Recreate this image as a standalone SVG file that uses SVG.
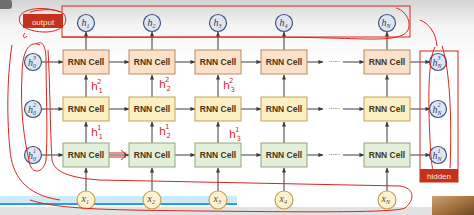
<svg xmlns="http://www.w3.org/2000/svg" width="474" height="215" viewBox="0 0 474 215">
<defs>
<linearGradient id="bg" x1="0" y1="0" x2="0" y2="1">
<stop offset="0" stop-color="#d4d4d4"/>
<stop offset="0.12" stop-color="#f4f4f4"/>
<stop offset="0.3" stop-color="#ffffff"/>
<stop offset="1" stop-color="#ffffff"/>
</linearGradient>
<linearGradient id="photo" x1="0" y1="0" x2="1" y2="1">
<stop offset="0" stop-color="#c9a27a"/>
<stop offset="0.5" stop-color="#a8743e"/>
<stop offset="1" stop-color="#6b4a2b"/>
</linearGradient>
<marker id="ar" viewBox="0 0 6 6" refX="5.5" refY="3" markerWidth="5" markerHeight="5" orient="auto">
<path d="M0,0.5 L6,3 L0,5.5 z" fill="#3c3c3c"/>
</marker>
<style>
.c text{font-family:"Liberation Sans",Arial,sans-serif;font-weight:bold;font-size:8.5px;fill:#4a3415;text-anchor:middle}
.top rect{fill:#fbe1c9;stroke:#b98a5e;stroke-width:1}
.mid rect{fill:#fcefc4;stroke:#c2a35a;stroke-width:1}
.bot rect{fill:#e3efd9;stroke:#8fa97c;stroke-width:1}
.hc circle{fill:#dfe5f1;stroke:#3b5680;stroke-width:1.2}
.xc circle{fill:#fcf2d2;stroke:#c4a04d;stroke-width:1.2}
.lab{font-family:"Liberation Serif","Times New Roman",serif;font-style:italic;font-size:10px;fill:#2d3f5c}
.xlab{font-family:"Liberation Serif","Times New Roman",serif;font-style:italic;font-size:10px;fill:#5a4a20}
.sm{font-size:6px}
.conn line{stroke:#3c3c3c;stroke-width:1;marker-end:url(#ar)}
.red{fill:none;stroke:#d8261e;stroke-width:1}
.hand{font-family:"DejaVu Sans",sans-serif;font-size:11px;fill:#d8261e}
.hsm{font-size:7px}
</style>
</defs>
<rect width="474" height="215" fill="url(#bg)"/>
<path d="M0,0 H10 Q12,0 12,3 V6 Q12,9 9,9 H0 z" fill="#6e6e6e"/>
<rect x="0" y="207" width="474" height="8" fill="#e2e2e2"/>
<rect x="0" y="196" width="237" height="7" fill="#cdebf6"/>
<rect x="0" y="203" width="237" height="2" fill="#2b9fd6"/>
<rect x="432" y="196" width="42" height="19" fill="url(#photo)"/>

<g id="connectors" class="conn">
<line x1="86" y1="191" x2="86" y2="168"/>
<line x1="152" y1="191" x2="152" y2="168"/>
<line x1="218" y1="191" x2="218" y2="168"/>
<line x1="284" y1="191" x2="284" y2="168"/>
<line x1="387" y1="191" x2="387" y2="168"/>
<line x1="86" y1="143" x2="86" y2="122"/>
<line x1="152" y1="143" x2="152" y2="122"/>
<line x1="218" y1="143" x2="218" y2="122"/>
<line x1="284" y1="143" x2="284" y2="122"/>
<line x1="387" y1="143" x2="387" y2="122"/>
<line x1="86" y1="97" x2="86" y2="75"/>
<line x1="152" y1="97" x2="152" y2="75"/>
<line x1="218" y1="97" x2="218" y2="75"/>
<line x1="284" y1="97" x2="284" y2="75"/>
<line x1="387" y1="97" x2="387" y2="75"/>
<line x1="86" y1="50" x2="86" y2="32"/>
<line x1="152" y1="50" x2="152" y2="32"/>
<line x1="218" y1="50" x2="218" y2="32"/>
<line x1="284" y1="50" x2="284" y2="32"/>
<line x1="387" y1="50" x2="387" y2="32"/>
<line x1="41" y1="62" x2="63" y2="62"/>
<line x1="109" y1="62" x2="129" y2="62"/>
<line x1="175" y1="62" x2="195" y2="62"/>
<line x1="241" y1="62" x2="261" y2="62"/>
<line x1="307" y1="62" x2="323" y2="62"/>
<line x1="343" y1="62" x2="364" y2="62"/>
<line x1="410" y1="62" x2="430" y2="62"/>
<line x1="41" y1="109" x2="63" y2="109"/>
<line x1="109" y1="109" x2="129" y2="109"/>
<line x1="175" y1="109" x2="195" y2="109"/>
<line x1="241" y1="109" x2="261" y2="109"/>
<line x1="307" y1="109" x2="323" y2="109"/>
<line x1="343" y1="109" x2="364" y2="109"/>
<line x1="410" y1="109" x2="430" y2="109"/>
<line x1="41" y1="155" x2="63" y2="155"/>
<line x1="109" y1="155" x2="129" y2="155"/>
<line x1="175" y1="155" x2="195" y2="155"/>
<line x1="241" y1="155" x2="261" y2="155"/>
<line x1="307" y1="155" x2="323" y2="155"/>
<line x1="343" y1="155" x2="364" y2="155"/>
<line x1="410" y1="155" x2="430" y2="155"/>
</g>
<g id="dots" fill="#3c3c3c" font-family="Liberation Sans,sans-serif" font-size="7" text-anchor="middle" letter-spacing="-0.5">
<text x="334" y="64">······</text>
<text x="334" y="111">······</text>
<text x="334" y="157">······</text>
</g>

<g id="cells-top" class="c top">
<g id="cell-1-3"><rect x="63" y="50" width="46" height="24"/><text x="86" y="65">RNN Cell</text></g>
<g id="cell-2-3"><rect x="129" y="50" width="46" height="24"/><text x="152" y="65">RNN Cell</text></g>
<g id="cell-3-3"><rect x="195" y="50" width="46" height="24"/><text x="218" y="65">RNN Cell</text></g>
<g id="cell-4-3"><rect x="261" y="50" width="46" height="24"/><text x="284" y="65">RNN Cell</text></g>
<g id="cell-N-3"><rect x="364" y="50" width="46" height="24"/><text x="387" y="65">RNN Cell</text></g>
</g>
<g id="cells-mid" class="c mid">
<g id="cell-1-2"><rect x="63" y="97" width="46" height="24"/><text x="86" y="112">RNN Cell</text></g>
<g id="cell-2-2"><rect x="129" y="97" width="46" height="24"/><text x="152" y="112">RNN Cell</text></g>
<g id="cell-3-2"><rect x="195" y="97" width="46" height="24"/><text x="218" y="112">RNN Cell</text></g>
<g id="cell-4-2"><rect x="261" y="97" width="46" height="24"/><text x="284" y="112">RNN Cell</text></g>
<g id="cell-N-2"><rect x="364" y="97" width="46" height="24"/><text x="387" y="112">RNN Cell</text></g>
</g>
<g id="cells-bot" class="c bot">
<g id="cell-1-1"><rect x="63" y="143" width="46" height="24"/><text x="86" y="158">RNN Cell</text></g>
<g id="cell-2-1"><rect x="129" y="143" width="46" height="24"/><text x="152" y="158">RNN Cell</text></g>
<g id="cell-3-1"><rect x="195" y="143" width="46" height="24"/><text x="218" y="158">RNN Cell</text></g>
<g id="cell-4-1"><rect x="261" y="143" width="46" height="24"/><text x="284" y="158">RNN Cell</text></g>
<g id="cell-N-1"><rect x="364" y="143" width="46" height="24"/><text x="387" y="158">RNN Cell</text></g>
</g>

<g id="outputs" class="hc">
<g id="h1"><circle cx="86" cy="23" r="8.5"/><text class="lab" x="81.5" y="26">h<tspan class="sm" dy="1.5">1</tspan></text></g>
<g id="h2"><circle cx="152" cy="23" r="8.5"/><text class="lab" x="147.5" y="26">h<tspan class="sm" dy="1.5">2</tspan></text></g>
<g id="h3"><circle cx="218" cy="23" r="8.5"/><text class="lab" x="213.5" y="26">h<tspan class="sm" dy="1.5">3</tspan></text></g>
<g id="h4"><circle cx="284" cy="23" r="8.5"/><text class="lab" x="279.5" y="26">h<tspan class="sm" dy="1.5">4</tspan></text></g>
<g id="hN"><circle cx="387" cy="23" r="8.5"/><text class="lab" x="381.5" y="26">h<tspan class="sm" dy="1.5">N</tspan></text></g>
</g>
<g id="h0" class="hc">
<g id="h03"><circle cx="33" cy="62" r="8.5"/><text class="lab" x="28" y="66">h</text><text class="lab sm" x="33" y="60">3</text><text class="lab sm" x="33" y="67.5">0</text></g>
<g id="h02"><circle cx="33" cy="109" r="8.5"/><text class="lab" x="28" y="113">h</text><text class="lab sm" x="33" y="107">2</text><text class="lab sm" x="33" y="114.5">0</text></g>
<g id="h01"><circle cx="33" cy="155" r="8.5"/><text class="lab" x="28" y="159">h</text><text class="lab sm" x="33" y="153">1</text><text class="lab sm" x="33" y="160.5">0</text></g>
</g>
<g id="hNs" class="hc">
<g id="hN3"><circle cx="438" cy="62" r="8.5"/><text class="lab" x="432.5" y="66">h</text><text class="lab sm" x="437.5" y="60">3</text><text class="lab sm" x="437.5" y="67.5">N</text></g>
<g id="hN2"><circle cx="438" cy="109" r="8.5"/><text class="lab" x="432.5" y="113">h</text><text class="lab sm" x="437.5" y="107">2</text><text class="lab sm" x="437.5" y="114.5">N</text></g>
<g id="hN1"><circle cx="438" cy="155" r="8.5"/><text class="lab" x="432.5" y="159">h</text><text class="lab sm" x="437.5" y="153">1</text><text class="lab sm" x="437.5" y="160.5">N</text></g>
</g>
<g id="inputs" class="xc">
<g id="x1"><circle cx="86" cy="200" r="9"/><text class="xlab" x="81.5" y="202">x<tspan class="sm" dy="1.5">1</tspan></text></g>
<g id="x2"><circle cx="152" cy="200" r="9"/><text class="xlab" x="147.5" y="202">x<tspan class="sm" dy="1.5">2</tspan></text></g>
<g id="x3"><circle cx="218" cy="200" r="9"/><text class="xlab" x="213.5" y="202">x<tspan class="sm" dy="1.5">3</tspan></text></g>
<g id="x4"><circle cx="284" cy="200" r="9"/><text class="xlab" x="279.5" y="202">x<tspan class="sm" dy="1.5">4</tspan></text></g>
<g id="xN"><circle cx="387" cy="200" r="9"/><text class="xlab" x="381.5" y="202">x<tspan class="sm" dy="1.5">N</tspan></text></g>
</g>

<g id="annotations">
<rect x="62" y="6" width="348" height="31" class="red" stroke-width="1.2"/>
<path class="red" d="M62,37 C150,38 260,36 330,38 C370,39 402,42 408,30 C412,20 404,10 396,8"/>
<g id="output-label"><rect x="23" y="14" width="40" height="14" fill="#c4321c"/><text x="43" y="24.5" font-family="Liberation Sans,Arial,sans-serif" font-size="8" fill="#f5e6d0" text-anchor="middle">output</text></g>
<path class="red" d="M60,12 C45,6 24,8 20,16 C16,26 30,32 45,32 C60,32 70,24 64,14 C58,8 40,9 30,12"/>
<path class="red" d="M25,33 C22,36 24,40 27,36"/>
<path class="red" d="M420,20 C430,24 436,34 437,46"/>
<rect x="420" y="51" width="38" height="131" class="red" stroke-width="1.2"/>
<g id="hidden-label"><rect x="420" y="169" width="38" height="13" fill="#c4321c"/><text x="439" y="178.5" font-family="Liberation Sans,Arial,sans-serif" font-size="8" fill="#f5e6d0" text-anchor="middle">hidden</text></g>
<path class="red" d="M435,47 C428,60 428,100 430,140 C431,160 432,168 433,169"/>
<path class="red" d="M442,46 C450,70 452,120 450,168"/>
<path class="red" d="M40,45 C30,40 22,50 22,75 C20,110 24,140 30,165 C34,175 44,172 46,160 C48,130 46,90 46,60 C46,45 42,40 36,44"/>
<path class="red" d="M12,45 C8,70 6,110 10,150 C12,175 25,195 60,200"/>
<path class="red" d="M48,50 C50,80 50,130 52,160 C54,172 70,178 100,180 C200,182 300,184 400,186 C415,188 415,200 405,208 C395,213 300,212 200,211 C120,210 60,210 30,200"/>
<path class="red" d="M109,153 L126,153 M109,157 L126,157 M121,150 L127,155 L121,160"/>
<text class="hand" x="91" y="90">h<tspan class="hsm" dx="-1" dy="-6">2</tspan><tspan class="hsm" dx="-3" dy="9">1</tspan></text>
<text class="hand" x="91" y="136">h<tspan class="hsm" dx="-1" dy="-6">1</tspan><tspan class="hsm" dx="-3" dy="9">1</tspan></text>
<text class="hand" x="159" y="88">h<tspan class="hsm" dx="-1" dy="-6">2</tspan><tspan class="hsm" dx="-3" dy="9">2</tspan></text>
<text class="hand" x="159" y="135">h<tspan class="hsm" dx="-1" dy="-6">1</tspan><tspan class="hsm" dx="-3" dy="9">2</tspan></text>
<text class="hand" x="223" y="89">h<tspan class="hsm" dx="-1" dy="-6">2</tspan><tspan class="hsm" dx="-3" dy="9">3</tspan></text>
<text class="hand" x="229" y="138">h<tspan class="hsm" dx="-1" dy="-6">1</tspan><tspan class="hsm" dx="-3" dy="9">3</tspan></text>
</g>
</svg>
